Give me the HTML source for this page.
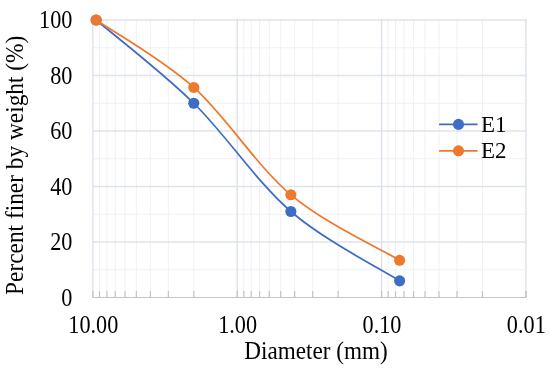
<!DOCTYPE html>
<html><head><meta charset="utf-8"><title>Grain size distribution</title>
<style>html,body{margin:0;padding:0;background:#fff}body{width:550px;height:368px;overflow:hidden}</style></head>
<body>
<svg width="550" height="368" viewBox="0 0 550 368" style="display:block">
<rect width="550" height="368" fill="#fff"/>
<g stroke="#eff1f6" stroke-width="1"><line x1="193.78" y1="20.00" x2="193.78" y2="297.50"/><line x1="168.37" y1="20.00" x2="168.37" y2="297.50"/><line x1="150.34" y1="20.00" x2="150.34" y2="297.50"/><line x1="136.35" y1="20.00" x2="136.35" y2="297.50"/><line x1="124.92" y1="20.00" x2="124.92" y2="297.50"/><line x1="115.26" y1="20.00" x2="115.26" y2="297.50"/><line x1="106.89" y1="20.00" x2="106.89" y2="297.50"/><line x1="99.50" y1="20.00" x2="99.50" y2="297.50"/><line x1="338.12" y1="20.00" x2="338.12" y2="297.50"/><line x1="312.70" y1="20.00" x2="312.70" y2="297.50"/><line x1="294.67" y1="20.00" x2="294.67" y2="297.50"/><line x1="280.68" y1="20.00" x2="280.68" y2="297.50"/><line x1="269.25" y1="20.00" x2="269.25" y2="297.50"/><line x1="259.59" y1="20.00" x2="259.59" y2="297.50"/><line x1="251.22" y1="20.00" x2="251.22" y2="297.50"/><line x1="243.84" y1="20.00" x2="243.84" y2="297.50"/><line x1="482.45" y1="20.00" x2="482.45" y2="297.50"/><line x1="457.04" y1="20.00" x2="457.04" y2="297.50"/><line x1="439.00" y1="20.00" x2="439.00" y2="297.50"/><line x1="425.02" y1="20.00" x2="425.02" y2="297.50"/><line x1="413.59" y1="20.00" x2="413.59" y2="297.50"/><line x1="403.92" y1="20.00" x2="403.92" y2="297.50"/><line x1="395.55" y1="20.00" x2="395.55" y2="297.50"/><line x1="388.17" y1="20.00" x2="388.17" y2="297.50"/><line x1="92.90" y1="269.75" x2="525.90" y2="269.75"/><line x1="92.90" y1="214.25" x2="525.90" y2="214.25"/><line x1="92.90" y1="158.75" x2="525.90" y2="158.75"/><line x1="92.90" y1="103.25" x2="525.90" y2="103.25"/><line x1="92.90" y1="47.75" x2="525.90" y2="47.75"/></g>
<g stroke="#dfe3ea" stroke-width="1.3"><line x1="92.25" y1="242.00" x2="526.55" y2="242.00"/><line x1="92.25" y1="186.50" x2="526.55" y2="186.50"/><line x1="92.25" y1="131.00" x2="526.55" y2="131.00"/><line x1="92.25" y1="75.50" x2="526.55" y2="75.50"/><line x1="92.25" y1="20.00" x2="526.55" y2="20.00"/></g>
<g stroke="#dadfe9" stroke-width="1.3"><line x1="92.90" y1="19.35" x2="92.90" y2="297.50"/><line x1="237.23" y1="19.35" x2="237.23" y2="297.50"/><line x1="381.57" y1="19.35" x2="381.57" y2="297.50"/><line x1="525.90" y1="19.35" x2="525.90" y2="297.50"/></g>
<g stroke="#c4c4c4" stroke-width="1.2"><line x1="92.30" y1="297.50" x2="526.50" y2="297.50"/><line x1="237.23" y1="291.10" x2="237.23" y2="297.50"/><line x1="193.78" y1="291.10" x2="193.78" y2="297.50"/><line x1="168.37" y1="291.10" x2="168.37" y2="297.50"/><line x1="150.34" y1="291.10" x2="150.34" y2="297.50"/><line x1="136.35" y1="291.10" x2="136.35" y2="297.50"/><line x1="124.92" y1="291.10" x2="124.92" y2="297.50"/><line x1="115.26" y1="291.10" x2="115.26" y2="297.50"/><line x1="106.89" y1="291.10" x2="106.89" y2="297.50"/><line x1="99.50" y1="291.10" x2="99.50" y2="297.50"/><line x1="381.57" y1="291.10" x2="381.57" y2="297.50"/><line x1="338.12" y1="291.10" x2="338.12" y2="297.50"/><line x1="312.70" y1="291.10" x2="312.70" y2="297.50"/><line x1="294.67" y1="291.10" x2="294.67" y2="297.50"/><line x1="280.68" y1="291.10" x2="280.68" y2="297.50"/><line x1="269.25" y1="291.10" x2="269.25" y2="297.50"/><line x1="259.59" y1="291.10" x2="259.59" y2="297.50"/><line x1="251.22" y1="291.10" x2="251.22" y2="297.50"/><line x1="243.84" y1="291.10" x2="243.84" y2="297.50"/><line x1="525.90" y1="291.10" x2="525.90" y2="297.50"/><line x1="482.45" y1="291.10" x2="482.45" y2="297.50"/><line x1="457.04" y1="291.10" x2="457.04" y2="297.50"/><line x1="439.00" y1="291.10" x2="439.00" y2="297.50"/><line x1="425.02" y1="291.10" x2="425.02" y2="297.50"/><line x1="413.59" y1="291.10" x2="413.59" y2="297.50"/><line x1="403.92" y1="291.10" x2="403.92" y2="297.50"/><line x1="395.55" y1="291.10" x2="395.55" y2="297.50"/><line x1="388.17" y1="291.10" x2="388.17" y2="297.50"/><line x1="525.90" y1="291.10" x2="525.90" y2="297.50"/><line x1="92.90" y1="291.10" x2="92.90" y2="297.50"/></g>
<path d="M96.12,20.00 C112.39,33.88 161.33,71.34 193.78,103.25 C226.24,135.16 256.57,181.88 290.87,211.47 C325.17,241.07 381.48,269.29 399.60,280.85" fill="none" stroke="#3f6dc5" stroke-width="1.75" stroke-linecap="round"/>
<g fill="#3f6dc5"><circle cx="96.12" cy="20.00" r="5.55"/><circle cx="193.78" cy="103.25" r="5.55"/><circle cx="290.87" cy="211.47" r="5.55"/><circle cx="399.60" cy="280.85" r="5.55"/></g>
<path d="M96.12,20.00 C112.39,31.24 161.33,58.30 193.78,87.43 C226.24,116.57 256.57,166.01 290.87,194.82 C325.17,223.64 381.48,249.40 399.60,260.31" fill="none" stroke="#ee782b" stroke-width="1.75" stroke-linecap="round"/>
<g fill="#ee782b"><circle cx="96.12" cy="20.00" r="5.55"/><circle cx="193.78" cy="87.43" r="5.55"/><circle cx="290.87" cy="194.82" r="5.55"/><circle cx="399.60" cy="260.31" r="5.55"/></g>
<line x1="439.1" y1="124.4" x2="477.6" y2="124.4" stroke="#3f6dc5" stroke-width="1.75"/>
<circle cx="458.5" cy="124.4" r="5.55" fill="#3f6dc5"/>
<line x1="439.1" y1="150.8" x2="477.6" y2="150.8" stroke="#ee782b" stroke-width="1.75"/>
<circle cx="458.5" cy="150.8" r="5.55" fill="#ee782b"/>
<g font-family="'Liberation Serif', 'Times New Roman', serif" font-size="24.5" fill="#000">
<text transform="translate(481.00,131.70) scale(0.9650,1)" font-size="23.8">E1</text>
<text transform="translate(481.00,157.60) scale(0.9650,1)" font-size="23.8">E2</text>
<text transform="translate(72.40,305.50) scale(0.9080,1)" text-anchor="end">0</text>
<text transform="translate(72.40,250.00) scale(0.9080,1)" text-anchor="end">20</text>
<text transform="translate(72.40,194.50) scale(0.9080,1)" text-anchor="end">40</text>
<text transform="translate(72.40,139.00) scale(0.9080,1)" text-anchor="end">60</text>
<text transform="translate(72.40,83.50) scale(0.9080,1)" text-anchor="end">80</text>
<text transform="translate(72.40,28.00) scale(0.9080,1)" text-anchor="end">100</text>
<text transform="translate(93.30,332.60) scale(0.9080,1)" text-anchor="middle">10.00</text>
<text transform="translate(237.63,332.60) scale(0.9080,1)" text-anchor="middle">1.00</text>
<text transform="translate(381.97,332.60) scale(0.9080,1)" text-anchor="middle">0.10</text>
<text transform="translate(526.30,332.60) scale(0.9080,1)" text-anchor="middle">0.01</text>
<text transform="translate(316.00,359.30) scale(0.9450,1)" text-anchor="middle">Diameter (mm)</text>
<text transform="translate(23.40,165.30) rotate(-90) scale(0.9530,1)" text-anchor="middle">Percent finer by weight (%)</text>
</g></svg>
</body></html>
